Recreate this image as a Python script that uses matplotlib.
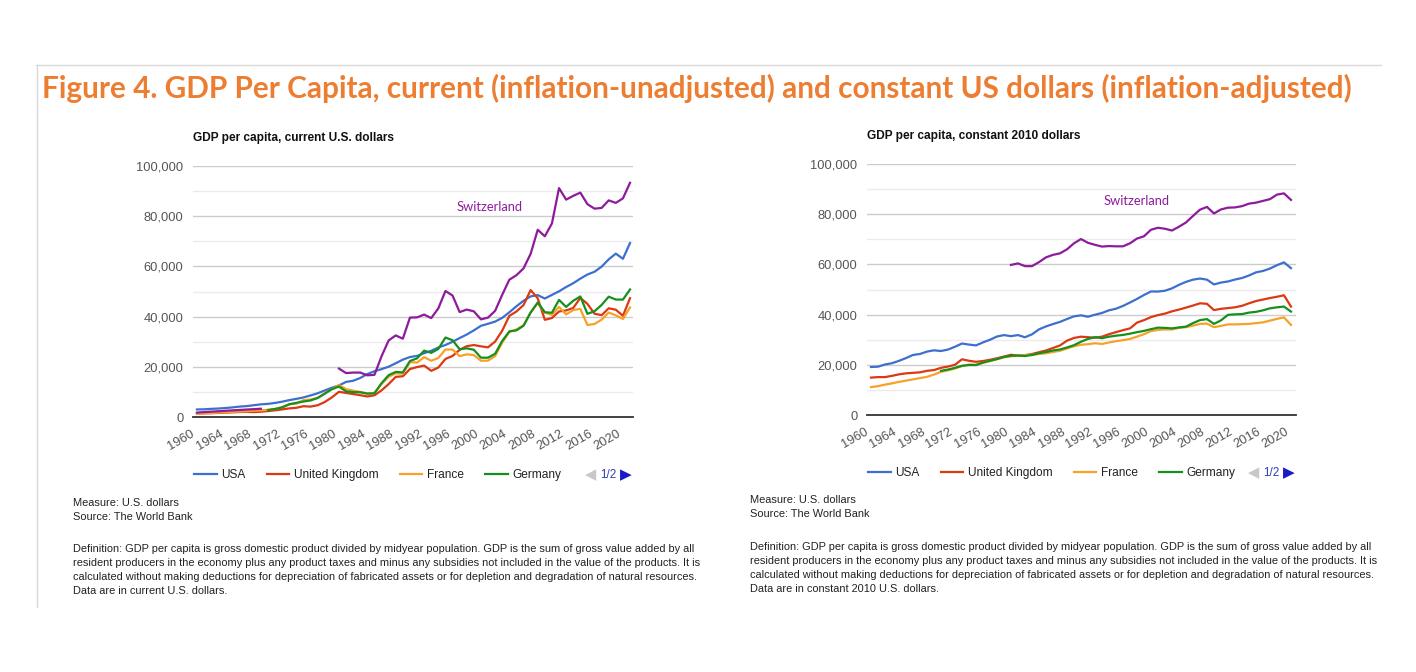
import matplotlib
matplotlib.use("Agg")
import matplotlib.pyplot as plt
import numpy as np
from matplotlib.lines import Line2D
from matplotlib.ticker import MultipleLocator, FuncFormatter

# %% Data
nan = np.nan
years_cur = list(range(1960, 2022))
years_con = list(range(1960, 2021))
tick_years = list(range(1960, 2021, 4))
countries = ["USA", "United Kingdom", "France", "Germany"]

usa_cur = [3007, 3067, 3244, 3375, 3574, 3828, 4146, 4336, 4696, 5032,
           5234, 5609, 6094, 6726, 7226, 7801, 8592, 9453, 10565, 11674,
           12575, 13976, 14434, 15544, 17121, 18237, 19071, 20039, 21417, 22857,
           23889, 24342, 25419, 26387, 27695, 28691, 29968, 31459, 32854, 34515,
           36330, 37134, 38023, 39496, 41713, 44115, 46299, 48050, 48570, 47195,
           48651, 50066, 51784, 53291, 55124, 56763, 57867, 59915, 62805, 65095,
           63028, 69288]
uk_cur = [1398, 1472, 1526, 1613, 1748, 1873, 1986, 2058, 1952, 2101,
          2348, 2650, 3030, 3426, 3666, 4300, 4138, 4681, 5977, 7805,
          10032, 9599, 9146, 8692, 8179, 8652, 10611, 13119, 15987, 16239,
          19095, 19901, 20487, 18389, 19710, 23123, 24333, 26734, 28214, 28670,
          28150, 27744, 30057, 34420, 40290, 42030, 44599, 50566, 47287, 38713,
          39436, 42039, 42463, 43426, 47440, 45071, 41146, 40572, 43307, 42747,
          40318, 47334]
fra_cur = [1334, 1428, 1578, 1746, 1907, 2023, 2164, 2324, 2495, 2622,
           2859, 3201, 3978, 5104, 5344, 6729, 6944, 7623, 9330, 11104,
           12712, 11106, 10497, 9991, 9374, 9632, 13183, 16023, 17381, 17307,
           21864, 21678, 23830, 22411, 23492, 26882, 26870, 24229, 24975, 24674,
           22416, 22452, 24275, 29691, 33874, 34880, 36545, 41600, 45413, 41631,
           40676, 43846, 40870, 42603, 43069, 36652, 37063, 38781, 41631, 40494,
           39055, 43659]
deu_cur = [nan] * 10 + [
           2761, 3195, 3802, 5046, 5639, 6170, 6590, 7576, 9323, 11070,
           12139, 10209, 9914, 9865, 9310, 9429, 13464, 16677, 17969, 17764,
           22304, 23357, 26427, 25560, 27127, 31659, 30564, 27023, 27341, 26796,
           23636, 23628, 25197, 30310, 34107, 34520, 36354, 41640, 45613, 41732,
           41532, 46645, 43858, 46299, 48024, 41103, 42136, 44652, 47939, 46795,
           46773, 50802]
che_cur = [1750, 1950, 2130, 2300, 2480, 2640, 2800, 2970, 3120, 3300] + [nan] * 10 + [
           19300, 17500, 17700, 17700, 16600, 16800, 24200, 30500, 32500, 31200,
           39600, 39700, 40800, 39400, 43300, 50200, 48400, 41800, 42800, 42100,
           38900, 39600, 42300, 48700, 54700, 56500, 59200, 65000, 74600, 72000,
           77100, 91200, 86600, 88100, 89400, 84800, 83000, 83300, 86300, 85300,
           87100, 93300]

usa_con = [19135, 19253, 20116, 20641, 21574, 22678, 23914, 24314, 25264, 25770,
           25489, 26065, 27194, 28474, 28059, 27725, 28925, 29983, 31271, 31837,
           31412, 31840, 30970, 32136, 34116, 35285, 36233, 37093, 38237, 39301,
           39711, 39140, 39952, 40646, 41708, 42344, 43452, 44810, 46230, 47813,
           49210, 49179, 49509, 50461, 51854, 53032, 53920, 54362, 53924, 52017,
           52760, 53201, 53961, 54576, 55572, 56830, 57385, 58342, 59675, 60813,
           58511]
uk_con = [14900, 15100, 15100, 15600, 16200, 16600, 16800, 17000, 17600, 17900,
          18800, 19300, 20000, 22200, 21600, 21200, 21500, 22000, 22600, 23300,
          24000, 23600, 23800, 24300, 25000, 25700, 26700, 27700, 29600, 30700,
          31200, 31000, 30800, 31200, 32200, 33000, 33800, 34500, 36800, 37800,
          39000, 39800, 40400, 41300, 42000, 42800, 43600, 44500, 44300, 41800,
          42300, 42600, 42900, 43500, 44500, 45400, 46000, 46600, 47100, 47700,
          43200]
fra_con = [11100, 11500, 12100, 12600, 13200, 13700, 14200, 14700, 15200, 16100,
           17200, 17800, 18500, 19500, 20100, 20000, 20800, 21500, 22200, 23000,
           23400, 23600, 23900, 24000, 24300, 24600, 25100, 25600, 26500, 27400,
           28000, 28200, 28600, 28300, 28900, 29400, 29800, 30300, 31200, 32200,
           33400, 33900, 34100, 34100, 34700, 35000, 35600, 36300, 36400, 35000,
           35500, 36100, 36100, 36200, 36300, 36600, 36900, 37600, 38300, 38900,
           35900]
deu_con = [nan] * 10 + [
           17600, 18100, 18800, 19600, 19900, 19900, 20900, 21600, 22300, 23100,
           23600, 23700, 23500, 23900, 24600, 25100, 25700, 26100, 26900, 27800,
           29200, 30300, 31000, 30600, 31200, 31600, 31900, 32400, 33000, 33500,
           34200, 34800, 34700, 34500, 34900, 35200, 36600, 37800, 38200, 36300,
           37700, 39900, 40100, 40200, 40800, 41100, 41700, 42500, 42900, 43200,
           41200]
che_con = [nan] * 20 + [
           59800, 60400, 59300, 59300, 60900, 62800, 63800, 64400, 66000, 68400,
           70100, 68600, 67800, 67100, 67300, 67200, 67200, 68400, 70300, 71200,
           73800, 74600, 74200, 73500, 75000, 76700, 79300, 81800, 82900, 80300,
           81900, 82600, 82700, 83200, 84200, 84600, 85300, 86000, 87800, 88300,
           85700]

# %% Style
W, H = 1416, 672
COLORS = ["#3d6fcf", "#dc3912", "#f7a128", "#16901c"]
SWISS_COLOR = "#8e1a9c"
TEXT_FONT = ["Liberation Sans", "DejaVu Sans"]
plt.rcParams["font.family"] = TEXT_FONT


def fx(px):
    return px / W


def fy(py):
    return 1 - py / H


fig = plt.figure(figsize=(W / 100, H / 100), dpi=100)


def draw_chart(rect, years, series, swiss, xlim, subtitle, swiss_xy, legend_x, legend_y, pager_x):
    ax = fig.add_axes(rect)
    lines = []
    for vals, name, col in zip(series, countries, COLORS):
        (ln,) = ax.plot(years, vals, color=col, lw=1.6, label=name, solid_joinstyle="round")
        lines.append(ln)
    ax.plot(years, swiss, color=SWISS_COLOR, lw=1.6, solid_joinstyle="round")
    ax.text(swiss_xy[0], swiss_xy[1], "Switzerland", color=SWISS_COLOR,
            fontsize=9.3, family=["Lato", "DejaVu Sans"], ha="center", va="center")

    ax.set_xlim(*xlim)
    ax.set_ylim(0, 100000)
    ax.yaxis.set_major_locator(MultipleLocator(20000))
    ax.yaxis.set_minor_locator(MultipleLocator(10000))
    ax.yaxis.set_major_formatter(FuncFormatter(lambda v, p: f"{int(v):,}"))
    ax.set_xticks(tick_years)
    ax.grid(True, axis="y", which="major", color="#cccccc", lw=1)
    ax.grid(True, axis="y", which="minor", color="#ebebeb", lw=1)
    ax.set_axisbelow(True)
    for s in ["left", "right", "top"]:
        ax.spines[s].set_visible(False)
    ax.spines["bottom"].set_color("#333333")
    ax.spines["bottom"].set_linewidth(1.3)
    ax.spines["bottom"].set_zorder(5)
    ax.tick_params(axis="both", which="both", length=0, labelsize=9.3, labelcolor="#555555")
    ax.tick_params(axis="y", pad=7)
    ax.tick_params(axis="x", pad=8)
    for lab in ax.get_xticklabels():
        lab.set_rotation(30)
        lab.set_ha("right")

    fig.text(rect[0], fy(subtitle[1]), subtitle[0], fontsize=8.6, weight="bold",
             color="#111111", ha="left", va="center")

    ax.legend(handles=lines, loc="center left", bbox_to_anchor=(fx(legend_x), fy(legend_y)),
              bbox_transform=fig.transFigure, ncol=4, frameon=False, fontsize=8.6,
              handlelength=1.9, handletextpad=0.4, columnspacing=1.75,
              borderpad=0, borderaxespad=0, labelcolor="#222222")
    fig.text(fx(pager_x), fy(legend_y), "\u25C0", color="#c8c8c8", fontsize=10.5,
             family="DejaVu Sans", ha="left", va="center")
    fig.text(fx(pager_x + 15), fy(legend_y), "1/2", color="#2d3fb5", fontsize=8.4,
             ha="left", va="center")
    fig.text(fx(pager_x + 35), fy(legend_y), "\u25B6", color="#1a1ac8", fontsize=11,
             family="DejaVu Sans", ha="left", va="center")
    return ax


# left: current U.S. dollars
draw_chart([fx(193), fy(417), fx(633) - fx(193), fy(166) - fy(417)],
           years_cur, [usa_cur, uk_cur, fra_cur, deu_cur], che_cur,
           (1959.44, 2021.42), ("GDP per capita, current U.S. dollars", 138),
           (2001.2, 83700), 194, 475, 585)

# right: constant 2010 dollars
draw_chart([fx(867), fy(415), fx(1296) - fx(867), fy(164) - fy(415)],
           years_con, [usa_con, uk_con, fra_con, deu_con], che_con,
           (1959.43, 2020.72), ("GDP per capita, constant 2010 dollars", 136),
           (1997.9, 85300), 868, 473, 1248)

# notes under each chart
definition = [
    "Definition: GDP per capita is gross domestic product divided by midyear population. GDP is the sum of gross value added by all",
    "resident producers in the economy plus any product taxes and minus any subsidies not included in the value of the products. It is",
    "calculated without making deductions for depreciation of fabricated assets or for depletion and degradation of natural resources.",
]
notes = [
    (73, 503, 549.5, "Data are in current U.S. dollars."),
    (750, 500, 547.5, "Data are in constant 2010 U.S. dollars."),
]
for x0, y_meas, y_def, last in notes:
    fig.text(fx(x0), fy(y_meas), "Measure: U.S. dollars", fontsize=7.9, color="#222222", va="center")
    fig.text(fx(x0), fy(y_meas + 14), "Source: The World Bank", fontsize=7.9, color="#222222", va="center")
    for i, line in enumerate(definition + [last]):
        fig.text(fx(x0), fy(y_def + 13.8 * i), line, fontsize=7.9, color="#222222", va="center")

# frame lines and figure title
fig.add_artist(Line2D([fx(36), fx(1381)], [fy(65), fy(65)], color="#d9d9d9", lw=1))
fig.add_artist(Line2D([fx(36.5), fx(36.5)], [fy(65), fy(607)], color="#d9d9d9", lw=1))

title = fig.text(fx(42), fy(88), "Figure 4. GDP Per Capita, current (inflation-unadjusted) and constant US dollars (inflation-adjusted)",
                 fontsize=20, weight="bold", family=["Lato", "DejaVu Sans"], color="#ed7d31",
                 ha="left", va="center")
fig.canvas.draw()
bb = title.get_window_extent()
title.set_fontsize(20 * (1310 / bb.width))

fig.savefig("out.png", dpi=100)
